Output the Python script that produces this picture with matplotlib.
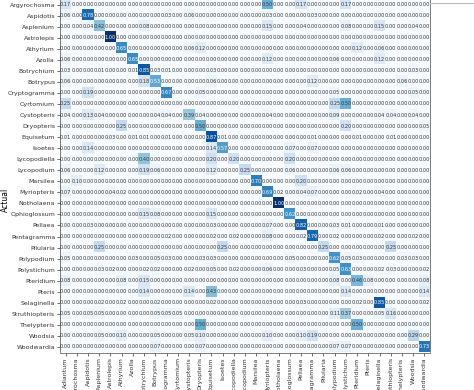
import matplotlib
matplotlib.use("Agg")
import matplotlib.pyplot as plt
from matplotlib.lines import Line2D
import numpy as np

classes = ["Adiantum", "Argyrochosma", "Aspidotis", "Asplenium", "Astrolepis",
           "Athyrium", "Azolla", "Botrychium", "Botrypus", "Cryptogramma",
           "Cyrtomium", "Cystopteris", "Dryopteris", "Equisetum", "Isoetes",
           "Lycopodiella", "Lycopodium", "Marsilea", "Myriopteris", "Notholaena",
           "Ophioglossum", "Pellaea", "Pentagramma", "Pilularia", "Polypodium",
           "Polystichum", "Pteridium", "Pteris", "Selaginella", "Struthiopteris",
           "Thelypteris", "Woodsia", "Woodwardia"]

# non zero cells of the normalised confusion matrix, one list per actual class
# (predicted class index, fraction)
nonzero = [
    [(0, 0.78), (3, 0.04), (12, 0.06), (18, 0.04), (21, 0.04), (24, 0.04)],       # Adiantum
    [(0, 0.17), (18, 0.50), (21, 0.17), (25, 0.17)],                                # Argyrochosma
    [(0, 0.06), (2, 0.78), (9, 0.03), (11, 0.06), (18, 0.03), (22, 0.03)],          # Aspidotis
    [(2, 0.04), (3, 0.42), (7, 0.08), (18, 0.15), (21, 0.04), (25, 0.08),
     (28, 0.15), (31, 0.04)],                                                       # Asplenium
    [(4, 1.00)],                                                                    # Astrolepis
    [(5, 0.65), (11, 0.06), (12, 0.12), (26, 0.12), (28, 0.06)],                    # Athyrium
    [(0, 0.06), (6, 0.65), (18, 0.12), (24, 0.06), (28, 0.12)],                     # Azolla
    [(0, 0.03), (3, 0.01), (6, 0.01), (7, 0.85), (8, 0.03), (9, 0.01),
     (13, 0.03), (31, 0.03)],                                                       # Botrychium
    [(0, 0.06), (7, 0.18), (8, 0.53), (13, 0.06), (22, 0.12), (30, 0.06)],          # Botrypus
    [(2, 0.19), (9, 0.67), (12, 0.05), (24, 0.05), (31, 0.05)],                     # Cryptogramma
    [(0, 0.25), (24, 0.25), (25, 0.50)],                                            # Cyrtomium
    [(0, 0.04), (2, 0.13), (3, 0.04), (8, 0.04), (9, 0.04), (11, 0.39),
     (12, 0.04), (18, 0.04), (24, 0.09), (28, 0.04), (29, 0.04), (31, 0.04)],      # Cystopteris
    [(5, 0.25), (12, 0.50), (25, 0.20), (32, 0.05)],                                # Dryopteris
    [(0, 0.01), (4, 0.03), (6, 0.01), (7, 0.01), (9, 0.01), (13, 0.87),
     (14, 0.01), (22, 0.01), (26, 0.01), (29, 0.01)],                               # Equisetum
    [(2, 0.14), (13, 0.14), (14, 0.57), (20, 0.07), (22, 0.07)],                    # Isoetes
    [(7, 0.40), (13, 0.20), (15, 0.20), (20, 0.20)],                                # Lycopodiella
    [(0, 0.06), (3, 0.12), (7, 0.19), (8, 0.06), (13, 0.12), (16, 0.25),
     (20, 0.06), (24, 0.06), (25, 0.06)],                                           # Lycopodium
    [(1, 0.10), (17, 0.70), (21, 0.20)],                                            # Marsilea
    [(0, 0.07), (4, 0.04), (5, 0.02), (18, 0.69), (19, 0.02), (21, 0.04),
     (22, 0.07), (26, 0.02), (28, 0.04)],                                           # Myriopteris
    [(19, 1.00)],                                                                   # Notholaena
    [(7, 0.15), (8, 0.08), (13, 0.15), (20, 0.62)],                                 # Ophioglossum
    [(2, 0.03), (13, 0.03), (18, 0.07), (21, 0.82), (24, 0.03), (25, 0.01),
     (28, 0.01)],                                                                   # Pellaea
    [(9, 0.02), (13, 0.02), (15, 0.02), (18, 0.08), (21, 0.02), (22, 0.79),
     (24, 0.02), (28, 0.02), (31, 0.02)],                                           # Pentagramma
    [(3, 0.25), (14, 0.25), (23, 0.25), (29, 0.25)],                                # Pilularia
    [(0, 0.05), (6, 0.03), (8, 0.05), (9, 0.03), (12, 0.03), (13, 0.03),
     (20, 0.05), (24, 0.62), (25, 0.05), (26, 0.03), (30, 0.03), (31, 0.03)],      # Polypodium
    [(3, 0.03), (4, 0.02), (7, 0.02), (8, 0.02), (11, 0.02), (13, 0.05),
     (15, 0.02), (18, 0.06), (21, 0.03), (24, 0.05), (25, 0.63), (28, 0.02),
     (29, 0.03), (32, 0.02)],                                                       # Polystichum
    [(0, 0.08), (5, 0.08), (7, 0.15), (24, 0.08), (26, 0.46), (27, 0.08),
     (32, 0.08)],                                                                   # Pteridium
    [(7, 0.14), (11, 0.14), (13, 0.43), (25, 0.14), (32, 0.14)],                    # Pteris
    [(3, 0.02), (5, 0.02), (8, 0.02), (13, 0.02), (18, 0.03), (21, 0.03),
     (26, 0.02), (28, 0.85), (32, 0.02)],                                           # Selaginella
    [(0, 0.05), (2, 0.05), (3, 0.05), (8, 0.05), (9, 0.05), (10, 0.05),
     (24, 0.11), (25, 0.37), (28, 0.05), (29, 0.16)],                               # Struthiopteris
    [(12, 0.50), (26, 0.50)],                                                       # Thelypteris
    [(3, 0.05), (5, 0.10), (8, 0.05), (11, 0.05), (12, 0.10), (18, 0.10),
     (21, 0.10), (22, 0.19), (31, 0.29)],                                           # Woodsia
    [(8, 0.07), (12, 0.07), (24, 0.07), (25, 0.07), (32, 0.73)],                    # Woodwardia
]

n = len(classes)
cm = np.zeros((n, n))
for i, cells in enumerate(nonzero):
    for j, v in cells:
        cm[i, j] = v

fig = plt.figure(figsize=(4.74, 3.90), dpi=100)
# axes top sits above the canvas, so the first row is cut off like in the original
ax = fig.add_axes([60 / 474, 37.5 / 390, 370 / 474, 364.5 / 390])
ax.imshow(cm, cmap="Blues", vmin=0, vmax=1, aspect="auto", interpolation="nearest")

for i in range(n):
    for j in range(n):
        v = cm[i, j]
        ax.text(j, i, f"{v:.2f}", ha="center", va="center", fontsize=3.6,
                color="white" if v > 0.5 else "#333333")

ax.set_xticks(range(n))
ax.set_xticklabels(classes, rotation=90, fontsize=4.5)
ax.set_yticks(range(n))
ax.set_yticklabels(classes, fontsize=4.5)
ax.tick_params(length=2, width=0.5, pad=1.5, colors="#333333")
ax.set_ylabel("Actual", fontsize=5.5)
ax.yaxis.set_label_coords(-0.135, 0.418)
for s in ax.spines.values():
    s.set_linewidth(0.6)
    s.set_color("#666666")

fig.add_artist(Line2D([430 / 474, 1.0], [1 - 3.3 / 390, 1 - 3.3 / 390],
                      transform=fig.transFigure, color="#bbbbbb", lw=0.8))

plt.savefig("out.png", dpi=100)
plt.close("all")
